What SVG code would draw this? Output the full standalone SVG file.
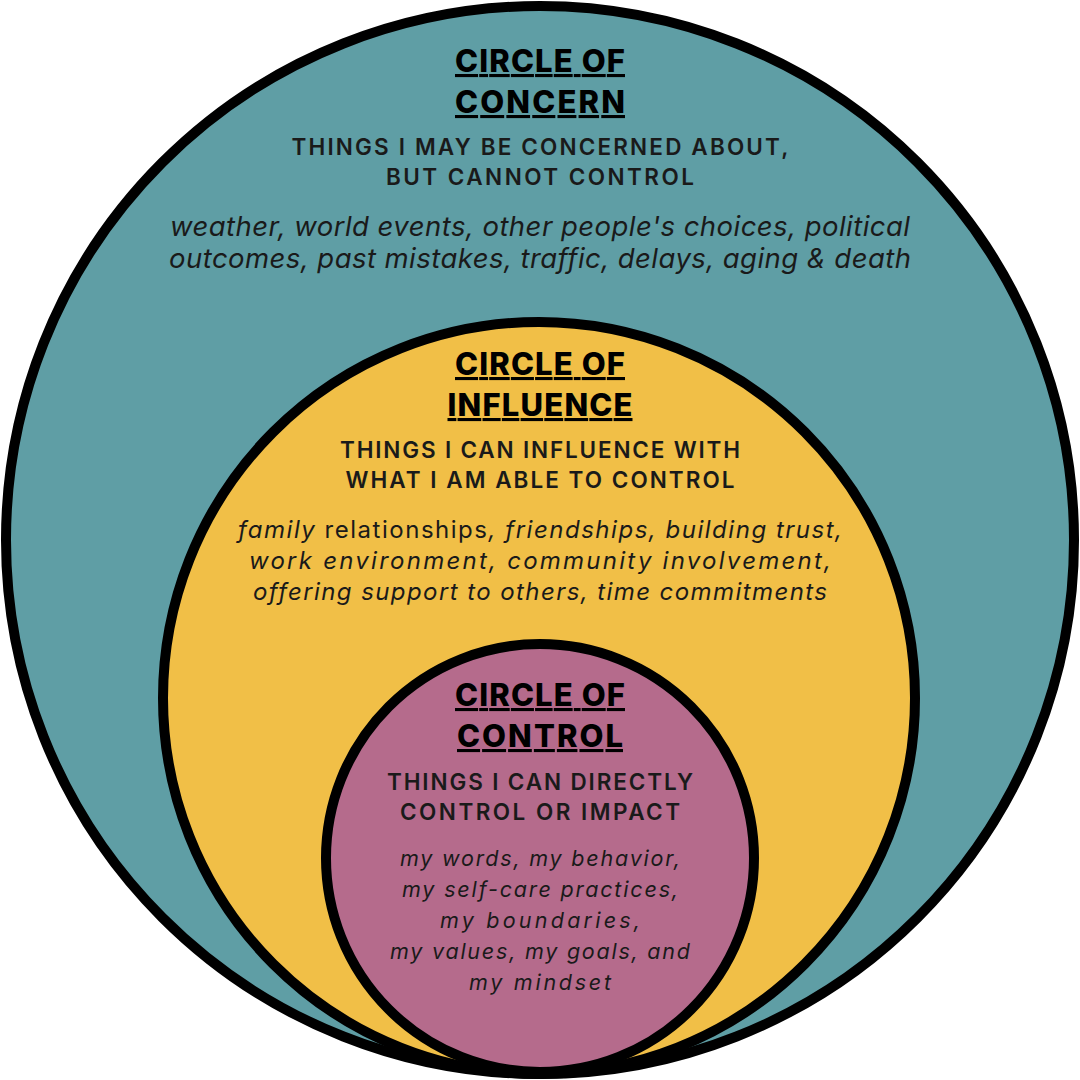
<svg xmlns="http://www.w3.org/2000/svg" width="1080" height="1080" viewBox="0 0 1080 1080">
<style>
.c{stroke:#000;stroke-width:10}
text{font-family:Inter,"Open Sans",sans-serif;text-anchor:middle;fill:#1a1a1a}
.t{font-size:31px;font-weight:800;text-decoration:underline;fill:#000}
.s{font-size:22.5px;font-weight:600}
.i{font-style:italic}
</style>
<rect width="1080" height="1080" fill="#fff"/>
<g id="concern">
<circle class="c" cx="540" cy="540" r="534" fill="#5f9ea5"/>
<text class="t" x="540" y="72" textLength="170" lengthAdjust="spacing">CIRCLE OF</text>
<text class="t" x="540" y="113" textLength="170" lengthAdjust="spacing">CONCERN</text>
<text class="s" x="540" y="155" textLength="497" lengthAdjust="spacing">THINGS I MAY BE CONCERNED ABOUT,</text>
<text class="s" x="540" y="185" textLength="308" lengthAdjust="spacing">BUT CANNOT CONTROL</text>
<text class="i" font-size="27.5" x="540" y="236" textLength="740" lengthAdjust="spacing">weather, world events, other people's choices, political</text>
<text class="i" font-size="27.5" x="540" y="268" textLength="742" lengthAdjust="spacing">outcomes, past mistakes, traffic, delays, aging &amp; death</text>
</g>
<g id="influence">
<circle class="c" cx="539" cy="698" r="376" fill="#f1bf47"/>
<text class="t" x="540" y="375" textLength="170" lengthAdjust="spacing">CIRCLE OF</text>
<text class="t" x="540" y="416" textLength="185" lengthAdjust="spacing">INFLUENCE</text>
<text class="s" x="540" y="458" textLength="400" lengthAdjust="spacing">THINGS I CAN INFLUENCE WITH</text>
<text class="s" x="540" y="488" textLength="389" lengthAdjust="spacing">WHAT I AM ABLE TO CONTROL</text>
<text font-size="24" x="540" y="538" textLength="604" lengthAdjust="spacing"><tspan class="i">family</tspan> relationships<tspan class="i">, friendships, building trust,</tspan></text>
<text class="i" font-size="24" x="540" y="569" textLength="582" lengthAdjust="spacing">work environment, community involvement,</text>
<text class="i" font-size="24" x="540" y="600" textLength="574" lengthAdjust="spacing">offering support to others, time commitments</text>
</g>
<g id="control">
<circle class="c" cx="540" cy="858" r="214" fill="#b56b8c"/>
<text class="t" x="540" y="706" textLength="170" lengthAdjust="spacing">CIRCLE OF</text>
<text class="t" x="540" y="747" textLength="166" lengthAdjust="spacing">CONTROL</text>
<text class="s" x="540" y="790" textLength="306" lengthAdjust="spacing">THINGS I CAN DIRECTLY</text>
<text class="s" x="540" y="820" textLength="280" lengthAdjust="spacing">CONTROL OR IMPACT</text>
<text class="i" font-size="21.5" x="540" y="866" textLength="280" lengthAdjust="spacing">my words, my behavior,</text>
<text class="i" font-size="21.5" x="540" y="897" textLength="276" lengthAdjust="spacing">my self-care practices,</text>
<text class="i" font-size="21.5" x="540" y="928" textLength="200" lengthAdjust="spacing">my boundaries,</text>
<text class="i" font-size="21.5" x="540" y="959" textLength="300" lengthAdjust="spacing">my values, my goals, and</text>
<text class="i" font-size="21.5" x="540" y="990" textLength="142" lengthAdjust="spacing">my mindset</text>
</g>
<g id="connectors"/>
</svg>
